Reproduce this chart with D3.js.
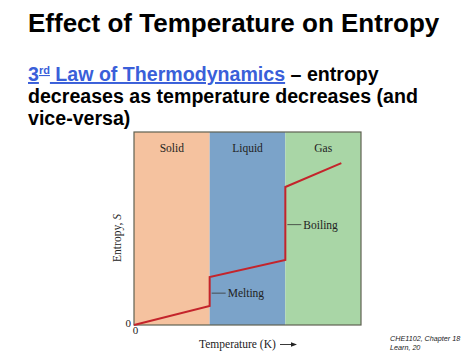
<!DOCTYPE html>
<html><head><meta charset="utf-8">
<script src="https://cdn.jsdelivr.net/npm/d3@7"></script>
<style>body{margin:0;background:#fff}svg{display:block}</style>
</head><body>
<script>
// ---- data ----
const phases = ["Solid", "Liquid", "Gas"];
const phaseStart = [0, 1, 2];
const phaseEnd = [1, 2, 3];
const phaseColors = ["#f5c29f", "#7ba3c9", "#a9d6a6"];
const temps = [0, 1, 1, 2, 2, 2.74];
const entropy = [0, 0.98, 2.49, 3.37, 7.15, 8.39];
const annotations = ["Melting", "Boiling"];
const annotationT = [1, 2];
const annotationS = [1.65, 5.2];
const xTicks = [0];
const yTicks = [0];

const W = 474, H = 355;
const svg = d3.select("body").append("svg").attr("width", W).attr("height", H);

// titles
svg.append("text").attr("x", 28).attr("y", 32)
  .style("font-family", "Liberation Sans, Arial, sans-serif").style("font-weight", "bold")
  .style("font-size", "26px").attr("fill", "#000").text("Effect of Temperature on Entropy");

const sub = svg.append("g").style("font-family", "Liberation Sans, Arial, sans-serif")
  .style("font-weight", "bold").style("font-size", "19.6px");
const l1 = sub.append("text").attr("x", 28).attr("y", 81);
const link = l1.append("tspan").attr("fill", "#3a5fd9").attr("text-decoration", "underline");
link.append("tspan").text("3");
link.append("tspan").attr("font-size", "11px").attr("dy", -7).text("rd");
link.append("tspan").attr("dy", 7).text(" Law of Thermodynamics");
l1.append("tspan").attr("fill", "#000").text(" \u2013 entropy");
sub.append("text").attr("x", 28).attr("y", 103).text("decreases as temperature decreases (and");
sub.append("text").attr("x", 28).attr("y", 125).text("vice-versa)");

// plot
const m = {l: 134, t: 132, r: 361, b: 325};
const x = d3.scaleLinear().domain([0, 3]).range([m.l, m.r]);
const y = d3.scaleLinear().domain([0, 10]).range([m.b, m.t]);

svg.append("g").selectAll("rect").data(phases).join("rect")
  .attr("x", (d, i) => x(phaseStart[i])).attr("y", m.t)
  .attr("width", (d, i) => x(phaseEnd[i]) - x(phaseStart[i])).attr("height", m.b - m.t)
  .attr("fill", (d, i) => phaseColors[i]);

const serif = "Liberation Serif, Times New Roman, serif";
svg.append("g").selectAll("text").data(phases).join("text")
  .attr("x", (d, i) => (x(phaseStart[i]) + x(phaseEnd[i])) / 2).attr("y", 152)
  .attr("text-anchor", "middle").style("font-family", serif).style("font-size", "11.5px")
  .attr("fill", "#222").text(d => d);

svg.append("rect").attr("x", m.l).attr("y", m.t).attr("width", m.r - m.l).attr("height", m.b - m.t)
  .attr("fill", "none").attr("stroke", "#5f6152").attr("stroke-width", 1.2);

const pts = temps.map((t, i) => [t, entropy[i]]);
svg.append("path").datum(pts)
  .attr("d", d3.line().x(d => x(d[0])).y(d => y(d[1])))
  .attr("fill", "none").attr("stroke", "#c4242b").attr("stroke-width", 2);

// annotations
const ann = svg.append("g");
annotations.forEach((a, i) => {
  const ax = x(annotationT[i]), ay = y(annotationS[i]);
  ann.append("line").attr("x1", ax + 2).attr("x2", ax + 16).attr("y1", ay).attr("y2", ay)
    .attr("stroke", "#333").attr("stroke-width", 0.8);
  ann.append("text").attr("x", ax + 18).attr("y", ay + 4)
    .style("font-family", serif).style("font-size", "11.5px").attr("fill", "#222").text(a);
});

// axes ticks labels
const xa = d3.axisBottom(x).tickValues(xTicks).tickSize(0).tickFormat(d3.format("d"));
const gx = svg.append("g").attr("transform", `translate(0,${m.b})`).call(xa);
gx.select(".domain").remove();
gx.selectAll("text").attr("dy", "0.55em").attr("dx", "0.1em").style("font-family", serif).style("font-size", "11px").attr("fill", "#222");
const ya = d3.axisLeft(y).tickValues(yTicks).tickSize(0).tickFormat(d3.format("d"));
const gy = svg.append("g").attr("transform", `translate(${m.l},0)`).call(ya);
gy.select(".domain").remove();
gy.selectAll("text").attr("dy", "0.1em").attr("x", -3).style("font-family", serif).style("font-size", "11px").attr("fill", "#222");

// axis titles
const xt = svg.append("text").attr("x", 199).attr("y", 348)
  .style("font-family", serif).style("font-size", "11.5px").attr("fill", "#222");
xt.text("Temperature (K) ");
svg.append("line").attr("x1", 280).attr("x2", 294).attr("y1", 344.5).attr("y2", 344.5)
  .attr("stroke", "#222").attr("stroke-width", 0.9);
svg.append("path").attr("d", "M297,344.5 L291,342.3 L291,346.7 Z").attr("fill", "#222");

const yt = svg.append("text").attr("transform", "translate(121,238) rotate(-90)")
  .attr("text-anchor", "middle").style("font-family", serif).style("font-size", "11.5px").attr("fill", "#222");
yt.append("tspan").text("Entropy, ");
yt.append("tspan").attr("font-style", "italic").text("S");

// citation
const cit = svg.append("g").style("font-family", "Liberation Sans, Arial, sans-serif")
  .style("font-style", "italic").style("font-size", "7.2px").attr("fill", "#222");
cit.append("text").attr("x", 390).attr("y", 341).text("CHE1102, Chapter 18");
cit.append("text").attr("x", 390).attr("y", 350).text("Learn, 20");
</script>
</body></html>
